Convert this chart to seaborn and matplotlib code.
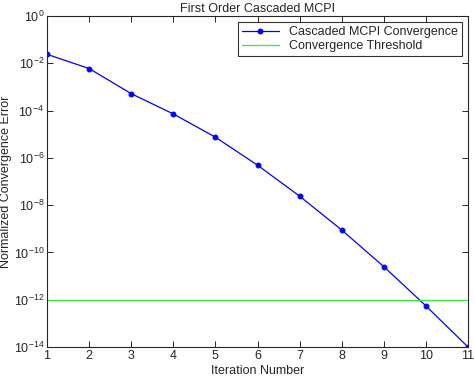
import pandas as pd
import numpy as np
import matplotlib
matplotlib.use('Agg')
import matplotlib.pyplot as plt
import seaborn as sns

# Werte
iteration = [1, 2, 3, 4, 5, 6, 7, 8, 9, 10, 11]
fehler = [2.4e-2, 6.0e-3, 5.2e-4, 7.2e-5, 7.5e-6, 4.9e-7, 2.4e-8, 8.9e-10, 2.5e-11, 5.5e-13, 1.0e-14]
schwelle = 1e-12

df = pd.DataFrame({'Iteration': iteration, 'Fehler': fehler})
df_schwelle = pd.DataFrame({'Iteration': [iteration[0], iteration[-1]], 'Fehler': [schwelle, schwelle]})

sns.set_style('ticks')
plt.rcParams['font.family'] = ['Liberation Sans', 'DejaVu Sans']
plt.rcParams['mathtext.fontset'] = 'custom'
plt.rcParams['mathtext.rm'] = 'Liberation Sans'

fig = plt.figure(figsize=(4.74, 3.77), dpi=100)
ax = fig.add_axes([47 / 474, 1 - 347 / 377, (468 - 47) / 474, (347 - 16) / 377])

sns.lineplot(data=df, x='Iteration', y='Fehler', color='#0000ff', marker='o', markersize=3.5,
             markeredgecolor='#0000ff', linewidth=0.9, label='Cascaded MCPI Convergence', ax=ax)
sns.lineplot(data=df_schwelle, x='Iteration', y='Fehler', color='#33ee33', linewidth=0.9,
             label='Convergence Threshold', ax=ax)

ax.set_yscale('log')
ax.set_xlim(1, 11)
ax.set_ylim(1e-14, 1e0)
ax.set_xticks(iteration)
ax.set_yticks([10.0 ** k for k in range(-14, 1, 2)])
ax.minorticks_off()
ax.tick_params(direction='in', top=True, right=True, labelsize=9, length=4, width=0.7, pad=2)
for s in ax.spines.values():
    s.set_linewidth(0.8)

ax.set_title('First Order Cascaded MCPI', fontsize=9, pad=3)
ax.set_xlabel('Iteration Number', fontsize=9)
ax.set_ylabel('Normalized Convergence Error', fontsize=9)
# Achsentitel so nah am Rand wie im Original, aber noch im Bild
ax.xaxis.set_label_coords(0.5, -0.053)
ax.yaxis.set_label_coords(-0.083, 0.5)

leg = ax.legend(loc='upper right', fontsize=9, frameon=True, fancybox=False, borderaxespad=0.5,
                handlelength=3, borderpad=0.3, labelspacing=0.2)
leg.get_frame().set_edgecolor('black')
leg.get_frame().set_linewidth(0.8)

fig.savefig('out.png', dpi=100)
